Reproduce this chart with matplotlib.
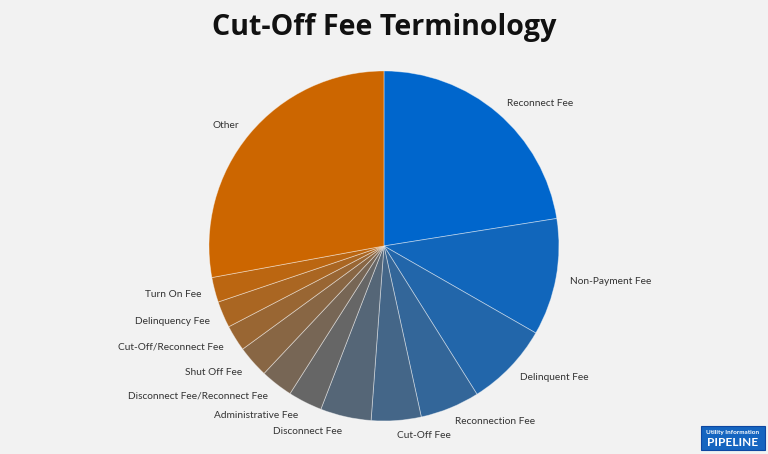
import matplotlib
matplotlib.use("Agg")
import matplotlib.pyplot as plt
from matplotlib.patches import FancyBboxPatch

categories = ["Reconnect Fee", "Non-Payment Fee", "Delinquent Fee", "Reconnection Fee",
              "Cut-Off Fee", "Disconnect Fee", "Administrative Fee",
              "Disconnect Fee/Reconnect Fee", "Shut Off Fee", "Cut-Off/Reconnect Fee",
              "Delinquency Fee", "Turn On Fee", "Other"]
values = [22.5, 10.8, 7.8, 5.5, 4.6, 4.7, 3.15, 3.0, 2.95, 2.4, 2.45, 2.3, 27.9]
colors = ["#0066CC", "#1166BB", "#2266AA", "#336699", "#446688", "#556677", "#666666",
          "#776655", "#886644", "#996633", "#AA6622", "#BB6611", "#CC6600"]
title = "Cut-Off Fee Terminology"

bg = "#F2F2F2"
fig = plt.figure(figsize=(7.68, 4.54), dpi=100, facecolor=bg)
ax = fig.add_axes([0.2721, 0.0727, 0.4557, 0.771])
ax.set_facecolor(bg)
wedges, texts = ax.pie(values, labels=categories, colors=colors, startangle=90,
                       counterclock=False, labeldistance=1.08,
                       wedgeprops=dict(edgecolor=(1, 1, 1, 0.45), linewidth=0.6),
                       textprops=dict(fontsize=7.3, color="#333333", family="Lato"))
for t in texts:
    t.set_va("center_baseline")
ax.set_xlim(-1, 1)
ax.set_ylim(-1, 1)
ax.set_aspect("auto")
ax.axis("off")

fig.text(0.5, 0.9405, title, ha="center", va="center", fontsize=20.6,
         fontweight="bold", family="Open Sans", color="#111111")

# logo
lx, ly, lw, lh = 701 / 768, 1 - 450 / 454, 64 / 768, 24 / 454
fig.patches.append(FancyBboxPatch((lx, ly), lw, lh, boxstyle="square,pad=0",
                                  transform=fig.transFigure, facecolor="#1565C0",
                                  edgecolor="#0D47A1", linewidth=0.8))
fig.text(lx + lw / 2, ly + lh * 0.74, "Utility Information", ha="center", va="center",
         fontsize=4.6, color="white", family="Lato", fontweight="bold")
fig.text(lx + lw / 2, ly + lh * 0.3, "PIPELINE", ha="center", va="center",
         fontsize=8.5, color="white", family="Lato", fontweight="bold")

fig.savefig("out.png", dpi=100, facecolor=bg)
